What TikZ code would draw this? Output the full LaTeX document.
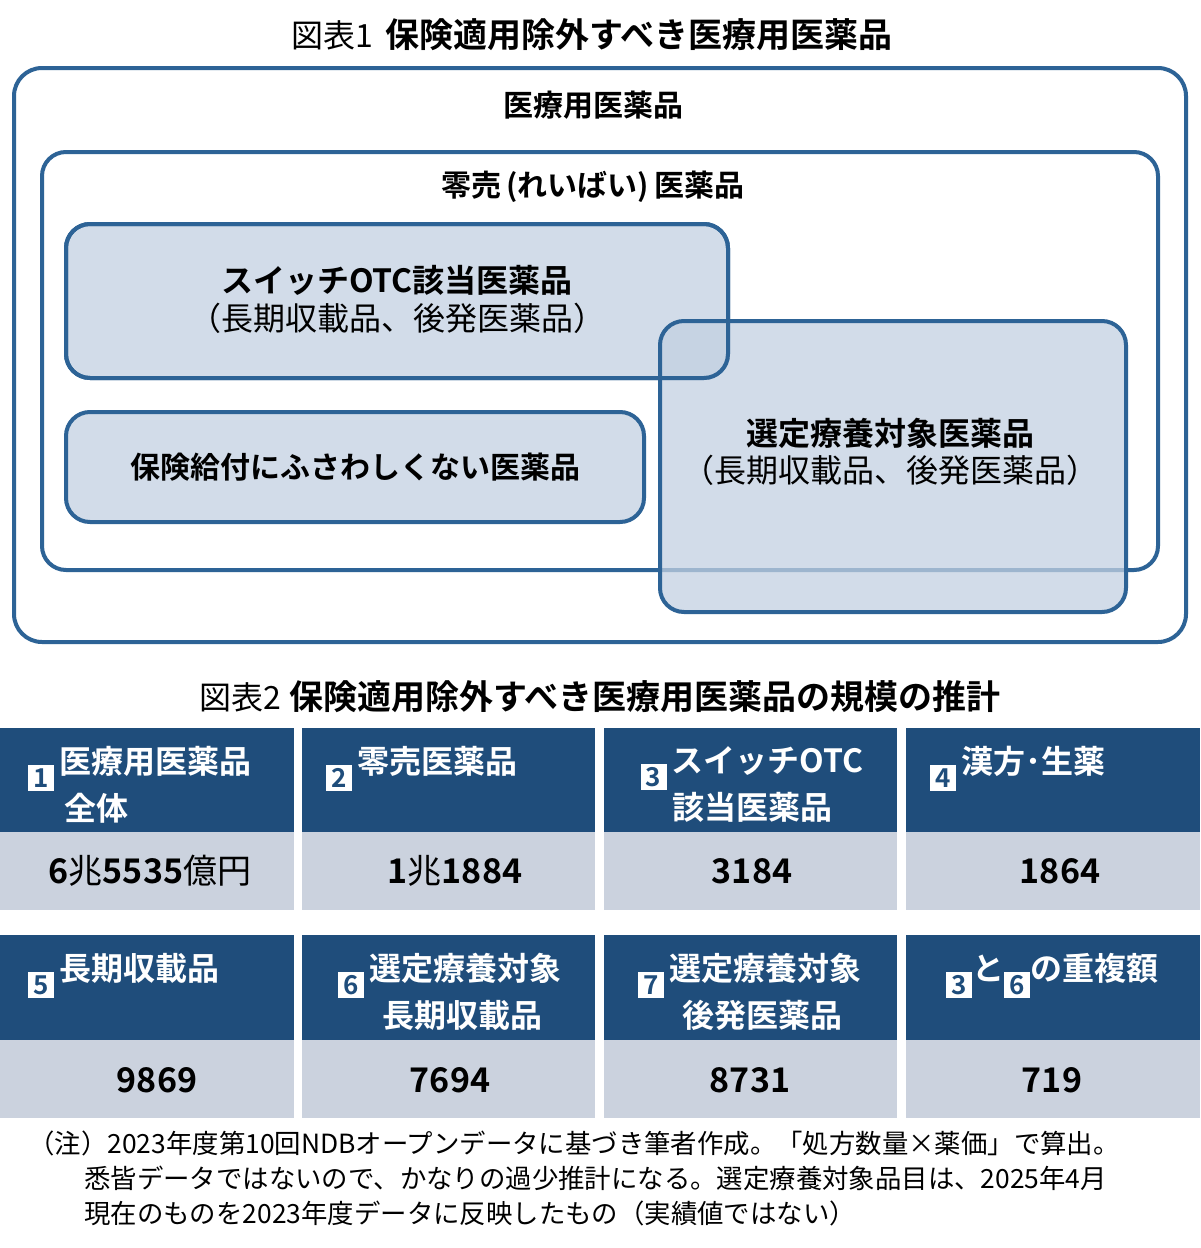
\documentclass[tikz,border=0pt]{standalone}
\usepackage{fontspec}
\setmainfont{Noto Sans CJK JP}
\newfontfamily\cjkb{Noto Sans CJK JP Bold}
\begin{document}
\begin{tikzpicture}[x=0.5pt,y=-0.5pt,
  bluel/.style={draw=boxblue,line width=2pt,rounded corners=12pt},
  inner/.style={bluel,fill=boxfill,fill opacity=0.75,draw opacity=1},
  hdr/.style={fill=hdrblue,draw=none},
  val/.style={fill=valgray,draw=none},
  htxt/.style={text=white,font=\cjkb\fontsize{16}{19}\selectfont,align=left,inner sep=0},
  vtxt/.style={font=\cjkb\fontsize{17}{20}\selectfont,inner sep=0},
  lab/.style={font=\cjkb\fontsize{15}{18}\selectfont,text=black,align=center,inner sep=0}]
\definecolor{boxblue}{HTML}{2D6396}
\definecolor{boxfill}{HTML}{C3D1E2}
\definecolor{hdrblue}{HTML}{1F4D7B}
\definecolor{valgray}{HTML}{CBD2DE}
\newcommand{\bdg}[1]{\tikz[baseline=-0.5ex]\node[fill=white,text=hdrblue,inner sep=0.5pt,minimum size=13pt,font=\cjkb\fontsize{13}{13}\selectfont]{#1};}
\useasboundingbox (0,0) rectangle (1200,1248);
\fill[white] (0,0) rectangle (1200,1248);
% Figure 1
\node[inner sep=0,font=\fontsize{16}{19}\selectfont] (t1) at (592,35) {図表1\hspace{6pt}{\cjkb\fontsize{17}{19}\selectfont 保険適用除外すべき医療用医薬品}};
\draw[bluel,rounded corners=14pt] (14,68) rectangle (1186,642);
\node[lab] (l1) at (593,105) {医療用医薬品};
\draw[bluel] (42,152) rectangle (1158,570);
\node[lab] (l2) at (593,187) {零売\,{\fontsize{15}{18}\selectfont (れいばい)}\,医薬品};
\draw[inner] (66,224) rectangle (728,378);
\draw[inner] (66,412) rectangle (644,522);
\draw[inner] (660,321) rectangle (1126,612);
\draw[boxblue,line width=2pt,rounded corners=12pt] (66,224) rectangle (728,378);
\node[lab,font=\cjkb\fontsize{16}{19}\selectfont] (a1) at (397,280) {スイッチOTC該当医薬品};
\node[inner sep=0,font=\fontsize{16}{19}\selectfont] (a2) at (397,318) {（長期収載品、後発医薬品）};
\node[lab] (b1) at (355,467) {保険給付にふさわしくない医薬品};
\node[lab,font=\cjkb\fontsize{16}{19}\selectfont] (c1) at (890,433) {選定療養対象医薬品};
\node[inner sep=0,font=\fontsize{16}{19}\selectfont] (c2) at (890,470) {（長期収載品、後発医薬品）};
% Figure 2
\node[inner sep=0,font=\fontsize{16}{19}\selectfont] (t2) at (600,697) {図表2\hspace{4pt}{\cjkb\fontsize{17}{19}\selectfont 保険適用除外すべき医療用医薬品の規模の推計}};
\foreach \xa/\xb in {0/294,302/595,604/897,906/1200}{
  \fill[hdrblue] (\xa,728) rectangle (\xb,832);
  \fill[valgray] (\xa,832) rectangle (\xb,910);
  \fill[hdrblue] (\xa,935) rectangle (\xb,1040);
  \fill[valgray] (\xa,1040) rectangle (\xb,1118);
}
\node[htxt,anchor=north west] (h1) at (28,746) {\bdg{1}\,医療用医薬品\\\hspace{18pt}全体};
\node[htxt,anchor=north west] (h2) at (326,746) {\bdg{2}\,零売医薬品};
\node[htxt,anchor=north,align=center] (h3) at (752,746) {\bdg{3}\,スイッチOTC\\該当医薬品};
\node[htxt,anchor=north west] (h4) at (930,746) {\bdg{4}\,漢方･生薬};
\node[htxt,anchor=north west] (h5) at (28,953) {\bdg{5}\,長期収載品};
\node[htxt,anchor=north,align=center] (h6) at (450,953) {\bdg{6}\,選定療養対象\\\hspace{12pt}長期収載品};
\node[htxt,anchor=north,align=center] (h7) at (750,953) {\bdg{7}\,選定療養対象\\\hspace{12pt}後発医薬品};
\node[htxt,anchor=north] (h8) at (1052,953) {\bdg{3}と\bdg{6}の重複額};
\node[vtxt] (v1) at (150,871) {6{\mdseries\fontspec{Noto Sans CJK JP}兆}5535{\fontspec{Noto Sans CJK JP}億円}};
\node[vtxt] (v2) at (455,871) {1{\fontspec{Noto Sans CJK JP}兆}1884};
\node[vtxt] (v3) at (752,871) {3184};
\node[vtxt] (v4) at (1060,871) {1864};
\node[vtxt] (v5) at (157,1080) {9869};
\node[vtxt] (v6) at (450,1080) {7694};
\node[vtxt] (v7) at (750,1080) {8731};
\node[vtxt] (v8) at (1052,1080) {719};
% Note
\node[inner sep=0,anchor=north west,align=left,font=\fontsize{13.2}{17.5}\selectfont] (note) at (28,1130)
 {（注）2023年度第10回NDBオープンデータに基づき筆者作成。「処方数量×薬価」で算出。\\
 \hspace{28pt}悉皆データではないので、かなりの過少推計になる。選定療養対象品目は、2025年4月\\
 \hspace{28pt}現在のものを2023年度データに反映したもの（実績値ではない）};
\end{tikzpicture}
\end{document}
